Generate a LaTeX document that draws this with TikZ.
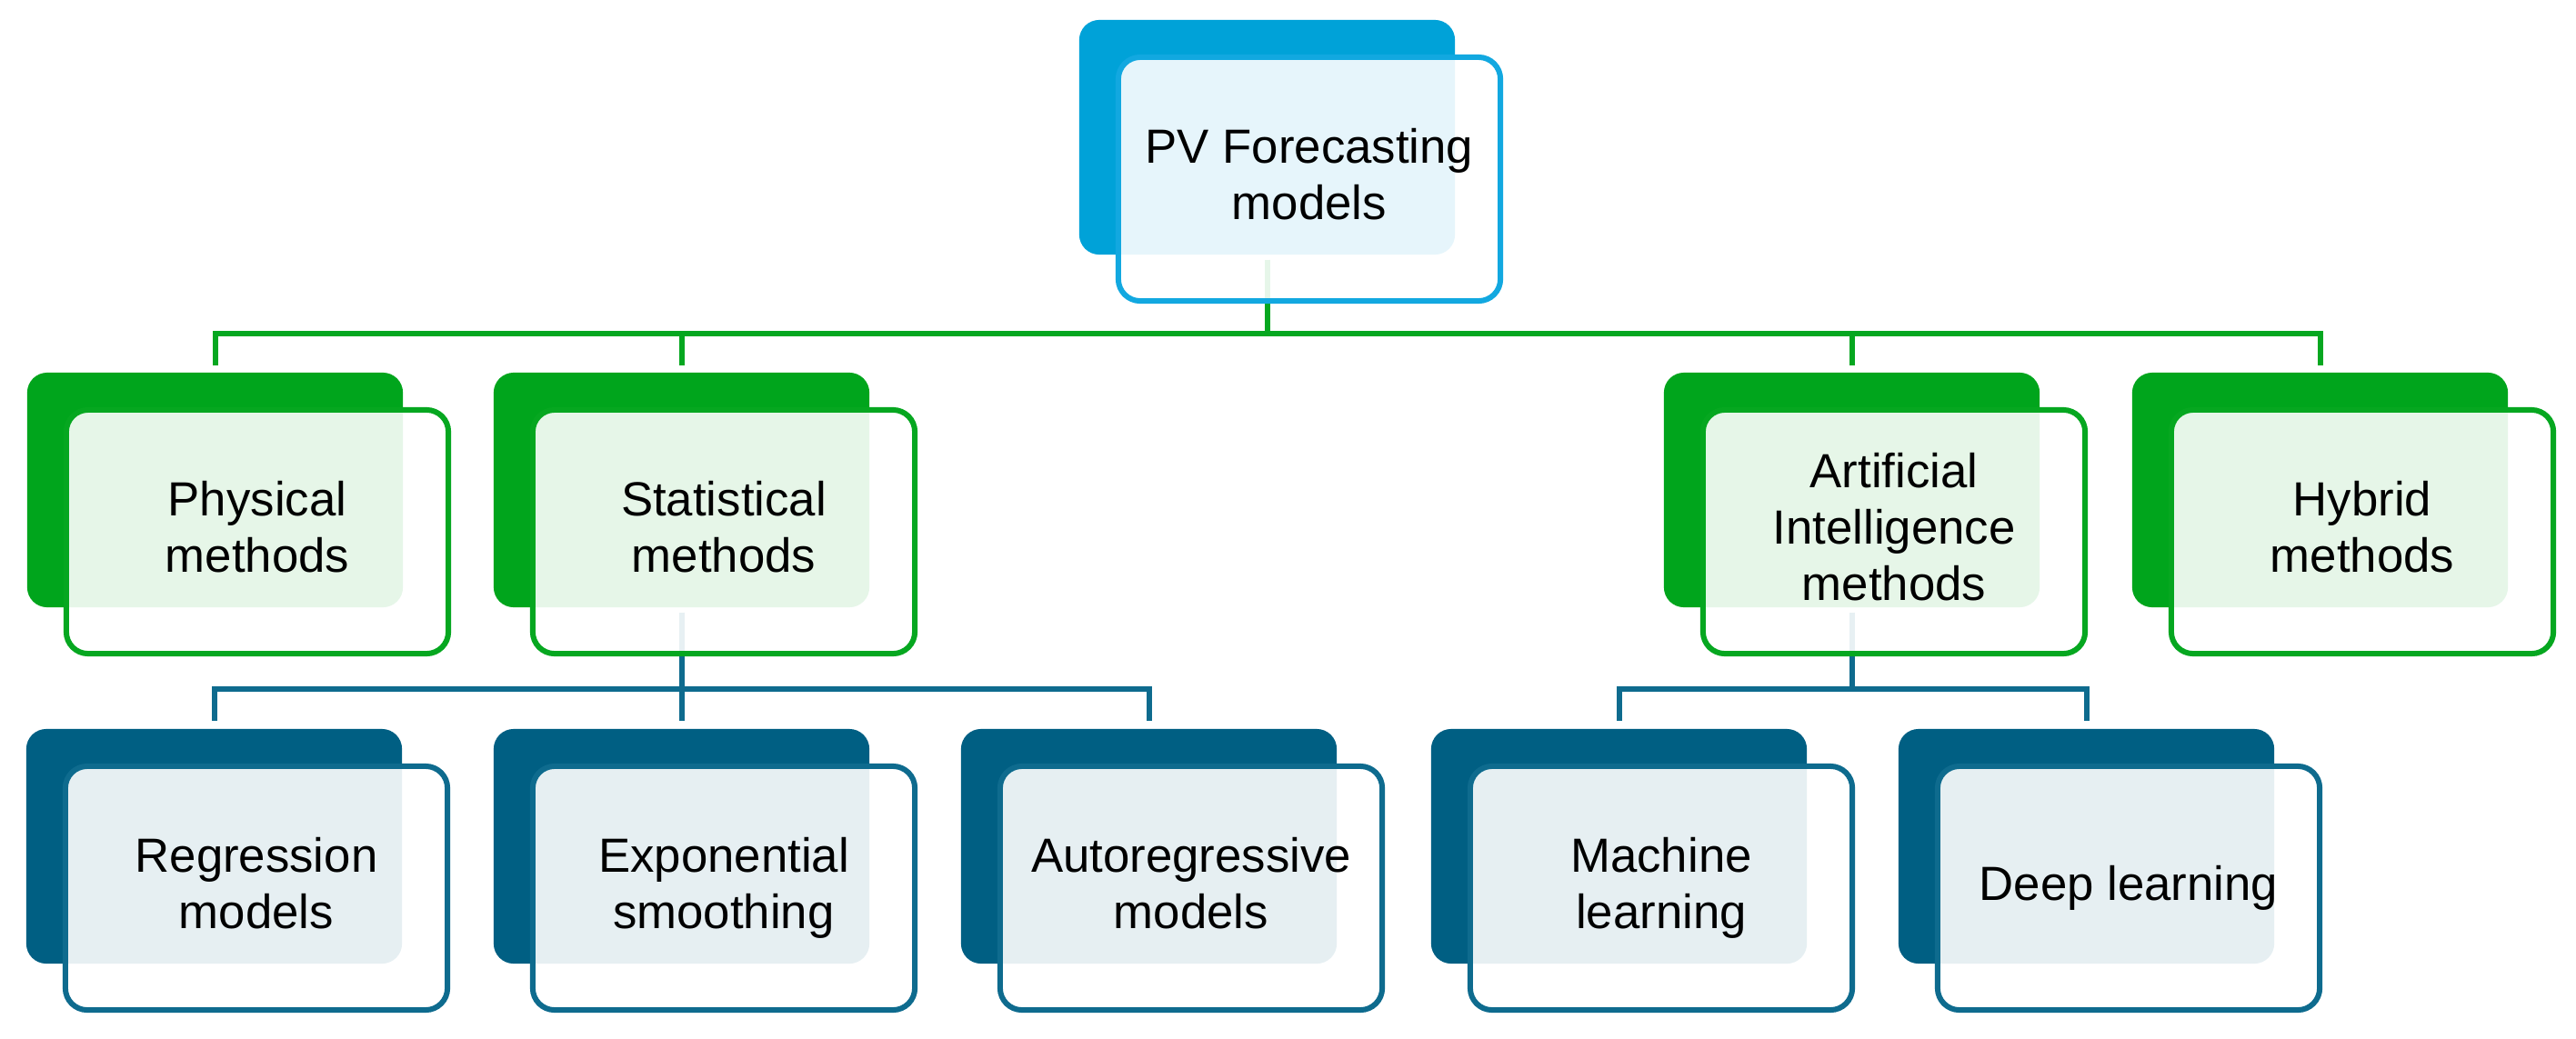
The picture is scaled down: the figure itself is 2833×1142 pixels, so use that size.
\documentclass[tikz,border=0pt]{standalone}
\usepackage{fontspec}
\setmainfont{Liberation Sans}
\pgfdeclarelayer{bg}
\pgfsetlayers{bg,main}
\definecolor{topdark}{HTML}{00A2D8}
\definecolor{topline}{HTML}{12A8E0}
\definecolor{gdark}{HTML}{00A51C}
\definecolor{gline}{HTML}{06A720}
\definecolor{bdark}{HTML}{005F83}
\definecolor{bline}{HTML}{0E6B8E}
\newcommand\nd[1]{\raisebox{0pt}[\height][0pt]{#1}}
\tikzset{
  backbox/.style={rectangle, rounded corners=0.22cm, minimum width=4.13cm,
    minimum height=2.58cm, inner sep=0pt, draw=none},
  frontbox/.style={rectangle, rounded corners=0.24cm, minimum width=4.20cm,
    minimum height=2.68cm, inner sep=0pt, line width=0.06cm, fill=white,
    fill opacity=0.9},
  boxtext/.style={inner sep=0pt, align=center, text=black,
    font=\fontsize{15pt}{17.7pt}\selectfont},
  gconn/.style={draw=gline, line width=0.06cm, shorten <=0.05cm, shorten >=0.07cm},
  bconn/.style={draw=bline, line width=0.06cm, shorten <=0.05cm, shorten >=0.08cm}
}
\newcommand\mkbox[6]{%
  \node[backbox, fill=#4] (#1b) at (#2+206.5, #3+129) {};
  \node[frontbox, draw=#5] (#1) at (#2+253, #3+175) {};
  \node[boxtext] (#1t) at ([yshift=0.055cm]#1.center) {#6};
}
\begin{document}
\begin{tikzpicture}[x=0.01cm, y=-0.01cm]
\useasboundingbox (0,0) rectangle (2833,1142);
\coordinate (gbus) at (0,367);
\coordinate (bbus) at (0,758);
% top
\mkbox{top}{1187}{22}{topdark}{topline}{PV Forecasting\\models}
% green row
\mkbox{phys}{30}{410}{gdark}{gline}{Physical\\methods}
\mkbox{stat}{543}{410}{gdark}{gline}{Statistical\\methods}
\mkbox{ai}{1830}{410}{gdark}{gline}{Artificial\\Intelligence\\methods}
\mkbox{hyb}{2345}{410}{gdark}{gline}{Hybrid\\methods}
% blue row
\mkbox{reg}{29}{802}{bdark}{bline}{Regression\\models}
\mkbox{exps}{543}{802}{bdark}{bline}{Exponential\\\nd{smoothing}}
\mkbox{auto}{1057}{802}{bdark}{bline}{Autoregressive\\models}
\mkbox{ml}{1574}{802}{bdark}{bline}{Machine\\\nd{learning}}
\mkbox{dl}{2088}{802}{bdark}{bline}{\nd{Deep learning}}
\begin{pgfonlayer}{bg}
  \fill[white] (0,0) rectangle (2833,1142);
  \draw[gconn] (topb.south) -- (topb.south |- gbus) -| (physb.north);
  \draw[gconn] (topb.south) -- (topb.south |- gbus) -| (statb.north);
  \draw[gconn] (topb.south) -- (topb.south |- gbus) -| (aib.north);
  \draw[gconn] (topb.south) -- (topb.south |- gbus) -| (hybb.north);
  \draw[bconn] (statb.south) -- (statb.south |- bbus) -| (regb.north);
  \draw[bconn] (statb.south) -- (statb.south |- bbus) -| (expsb.north);
  \draw[bconn] (statb.south) -- (statb.south |- bbus) -| (autob.north);
  \draw[bconn] (aib.south) -- (aib.south |- bbus) -| (mlb.north);
  \draw[bconn] (aib.south) -- (aib.south |- bbus) -| (dlb.north);
\end{pgfonlayer}
\end{tikzpicture}
\end{document}
